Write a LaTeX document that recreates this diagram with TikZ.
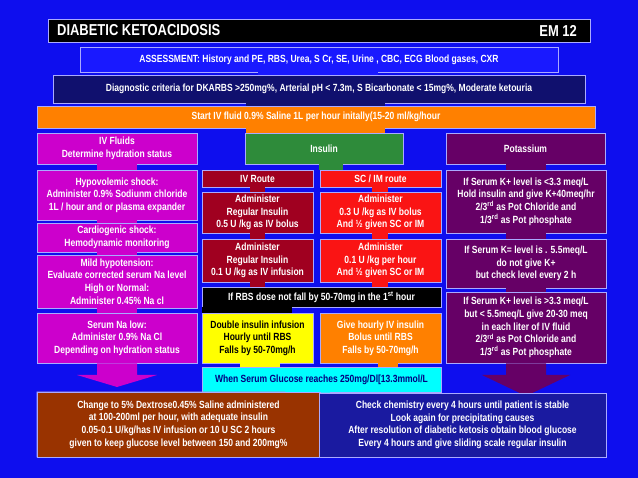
\documentclass[tikz,border=0pt]{standalone}
\usepackage{fontspec}
\newfontfamily\nar[FakeStretch=0.82]{Liberation Sans}
\definecolor{bgc}{RGB}{14,14,238}
\definecolor{edge}{RGB}{170,170,255}
\definecolor{assc}{RGB}{25,25,255}
\definecolor{diac}{RGB}{16,16,110}
\definecolor{orc}{RGB}{255,128,0}
\definecolor{mgc}{RGB}{204,0,204}
\definecolor{grc}{RGB}{46,139,58}
\definecolor{puc}{RGB}{102,0,102}
\definecolor{drc}{RGB}{160,0,32}
\definecolor{rdc}{RGB}{250,20,20}
\definecolor{yec}{RGB}{255,255,0}
\definecolor{cyc}{RGB}{0,255,255}
\definecolor{txc}{RGB}{0,0,128}
\definecolor{brc}{RGB}{153,51,0}
\definecolor{fnc}{RGB}{26,26,160}
\newcommand\bx[8][white]{%
 \pgfmathsetmacro\cx{(#3+#5)/2}\pgfmathsetmacro\cy{(#4+#6)/2}%
 \pgfmathsetmacro\ww{#5-#3}\pgfmathsetmacro\hh{#6-#4}%
 \node[bx,fill=#7,text=#1,minimum width=\ww pt,minimum height=\hh pt] (#2) at (\cx,\cy) {#8};}
\newcommand\stem[5]{% from, to, x1, x2, color
 \fill[#5] (#1.south -| #3,0) rectangle (#2.north -| #4,0);}
\begin{document}
\begin{tikzpicture}[x=1pt,y=-1pt,
 bx/.style={draw=edge,line width=0.7pt,inner sep=0pt,align=center,
   font=\nar\bfseries\fontsize{10.4}{12.6}\selectfont}]
\fill[bgc] (0,0) rectangle (638,478);
\useasboundingbox (0,0) rectangle (638,478);
% title
\bx{title}{48}{19}{590}{42}{black}{}
\node[anchor=west,text=white,font=\nar\bfseries\fontsize{15.8}{18}\selectfont] (tl) at ([xshift=6pt]title.west) {DIABETIC KETOACIDOSIS};
\node[anchor=east,text=white,font=\nar\bfseries\fontsize{15.8}{18}\selectfont] (tr) at ([xshift=-10pt]title.east) {EM 12};
\bx{assess}{80}{47}{558}{72}{assc}{ASSESSMENT: History and PE, RBS, Urea, S Cr, SE, Urine , CBC, ECG Blood gases, CXR}
\bx{diag}{53}{75}{585}{103}{diac}{Diagnostic criteria for DKARBS >250mg\%, Arterial pH < 7.3m, S Bicarbonate < 15mg\%, Moderate ketouria}
\bx{start}{37}{106}{595}{128}{orc}{Start IV fluid 0.9\% Saline 1L per hour initally(15-20 ml/kg/hour}
\bx{ivf}{37}{133}{197}{164}{mgc}{IV Fluids\\Determine hydration status}
\bx{ins}{245}{133}{403}{164}{grc}{Insulin}
\bx{pot}{446}{133}{605}{164}{puc}{Potassium}
% left column
\bx{hypo}{37}{170}{197}{220}{mgc}{Hypovolemic shock:\\Administer 0.9\% Sodiunm chloride\\1L / hour and or plasma expander}
\bx{card}{37}{223}{197}{252}{mgc}{Cardiogenic shock:\\Hemodynamic monitoring}
\bx{mild}{37}{255}{197}{308}{mgc}{Mild hypotension:\\Evaluate corrected serum Na level\\High or Normal:\\Administer 0.45\% Na cl}
\bx{nalow}{37}{313}{197}{363}{mgc}{Serum Na low:\\Administer 0.9\% Na Cl\\Depending on hydration status}
% insulin columns
\bx{ivr}{202}{170}{313}{187}{drc}{IV Route}
\bx{scr}{320}{170}{441}{187}{rdc}{SC / IM route}
\bx{iv1}{202}{192}{313}{233}{drc}{Administer\\Regular Insulin\\0.5 U /kg as IV bolus}
\bx{sc1}{320}{192}{441}{233}{rdc}{Administer\\0.3 U /kg as IV bolus\\And ½ given SC or IM}
\bx{iv2}{202}{239}{313}{282}{drc}{Administer\\Regular Insulin\\0.1 U /kg as IV infusion}
\bx{sc2}{320}{239}{441}{282}{rdc}{Administer\\0.1 U /kg per hour\\And ½ given SC or IM}
\bx{blk}{202}{287}{441}{307}{black}{If RBS dose not fall by 50-70mg in the 1\textsuperscript{st} hour}
\bx[black]{yel}{202}{313}{313}{363}{yec}{Double insulin infusion\\Hourly until RBS\\Falls by 50-70mg/h}
\bx{org}{320}{313}{441}{363}{orc}{Give hourly IV insulin\\Bolus until RBS\\Falls by 50-70mg/h}
\bx[txc]{cyan}{202}{367}{441}{392}{cyc}{When Serum Glucose reaches 250mg/Dl[13.3mmol/L}
% potassium
\bx{k1}{446}{170}{606}{233}{puc}{If Serum K+  level is <3.3 meq/L\\Hold insulin and give K+40meq/hr\\2/3\textsuperscript{rd} as Pot Chloride and\\1/3\textsuperscript{rd} as Pot phosphate}
\bx{k2}{446}{239}{606}{288}{puc}{If Serum K= level is . 5.5meq/L\\do not give K+\\but check level every 2 h}
\bx{k3}{446}{292}{606}{363}{puc}{If Serum K+ level is >3.3 meq/L\\but < 5.5meq/L give 20-30 meq\\in each liter of IV fluid\\2/3\textsuperscript{rd} as Pot Chloride and\\1/3\textsuperscript{rd} as Pot phosphate}
% stems
\stem{assess}{diag}{258}{378}{assc}
\stem{diag}{start}{246}{385}{diac}
\stem{start}{ins}{246}{385}{orc}
\stem{ivf}{hypo}{97}{137}{mgc}
\stem{hypo}{card}{97}{137}{mgc}
\stem{card}{mild}{97}{137}{mgc}
\stem{mild}{nalow}{97}{137}{mgc}
\stem{ins}{scr}{319}{343}{grc}
\stem{ivr}{iv1}{250}{265}{drc}
\stem{iv1}{iv2}{250}{265}{drc}
\stem{iv2}{blk}{250}{265}{drc}
\stem{scr}{sc1}{372}{388}{rdc}
\stem{sc1}{sc2}{372}{388}{rdc}
\stem{sc2}{blk}{372}{388}{rdc}
\stem{blk}{yel}{202}{292}{black}
\stem{yel}{cyan}{240}{280}{yec}
\stem{org}{cyan}{378}{398}{orc}
\stem{pot}{k1}{506}{546}{puc}
\stem{k1}{k2}{506}{546}{puc}
\stem{k2}{k3}{506}{546}{puc}
% big arrows
\fill[mgc] (nalow.south -| 97,0) -- (97,375) -- (77,375) -- (117,387) -- (157,375) -- (137,375) -- (nalow.south -| 137,0) -- cycle;
\fill[puc] (k3.south -| 506,0) -- (506,375) -- (482,375) -- (526,396) -- (570,375) -- (546,375) -- (k3.south -| 546,0) -- cycle;
\fill[cyc] (cyan.south -| 290,0) -- (cyan.south -| 330,0) -- (322,410) -- cycle;
% bottom boxes
\fill[brc,draw=edge,line width=0.7pt] (37,392) -- (285,392) -- (330,424) -- (285,457) -- (37,457) -- cycle;
\bx{brown}{37}{392}{320}{457}{brc}{Change to 5\% Dextrose0.45\% Saline administered\\at 100-200ml per hour, with adequate insulin\\0.05-0.1 U/kg/has IV infusion or 10 U SC 2 hours\\given to keep glucose level between 150 and 200mg\%}
\bx{fin}{319}{393}{606}{457}{fnc}{Check chemistry every 4 hours until patient is stable\\Look again for precipitating causes\\After resolution of diabetic ketosis obtain blood glucose\\Every 4 hours and give sliding scale regular insulin}
\end{tikzpicture}
\end{document}
